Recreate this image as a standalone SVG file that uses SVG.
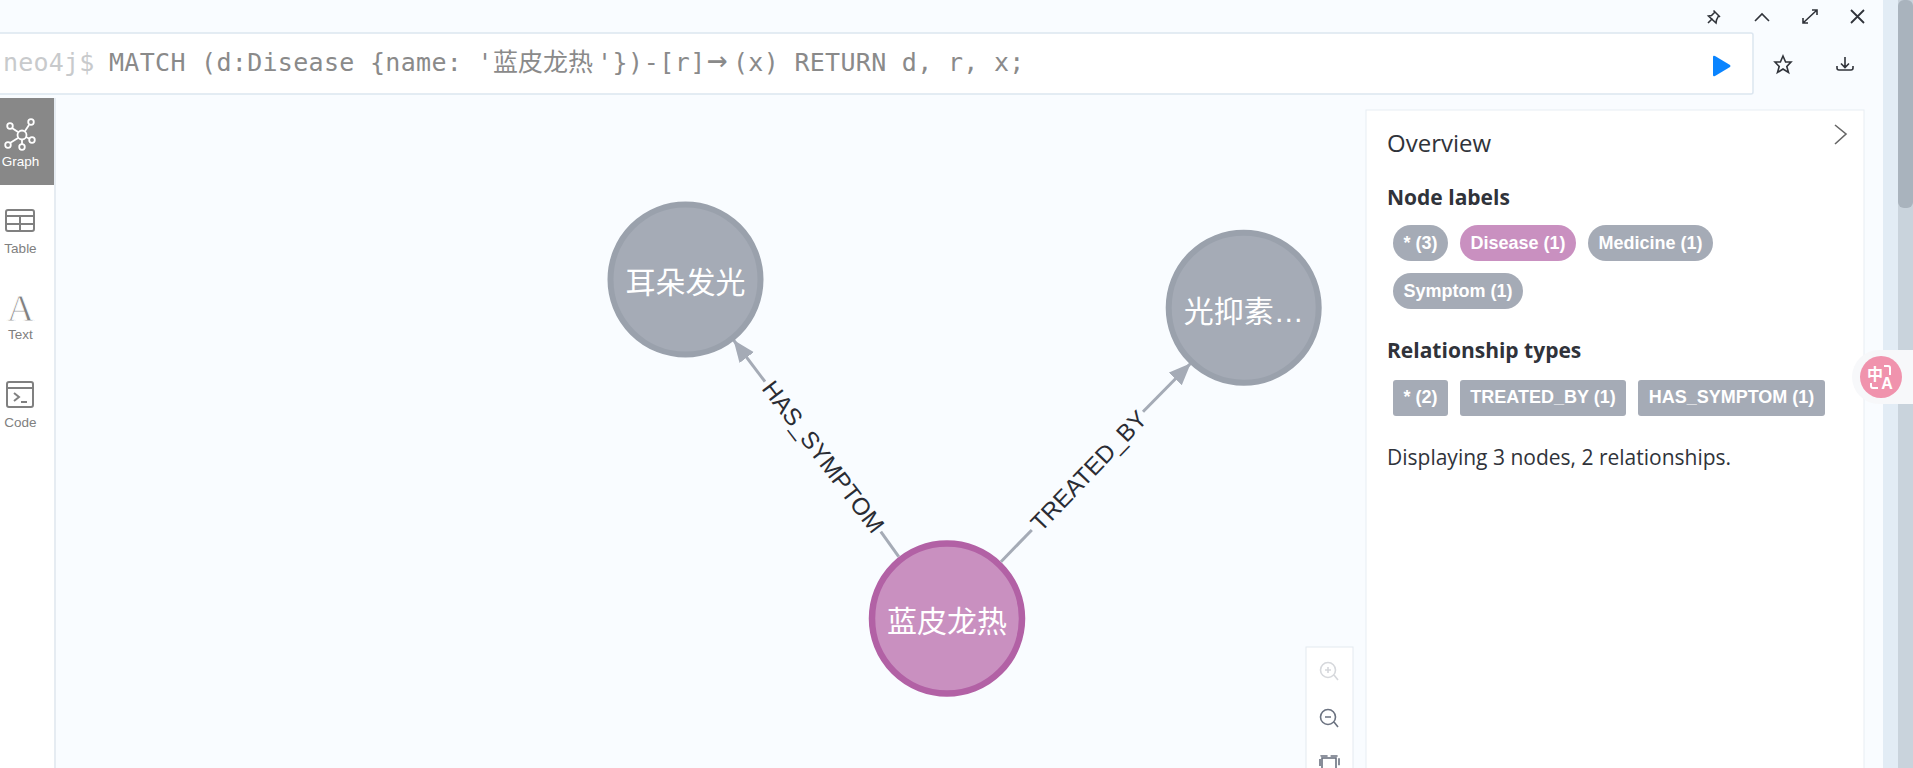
<svg xmlns="http://www.w3.org/2000/svg" width="1913" height="768" viewBox="0 0 1913 768">
<style>
.node text{font-size:30px;fill:#fff;text-anchor:middle;font-family:"Liberation Sans","Noto Sans CJK SC",sans-serif}
.gray circle{fill:#a5abb6;stroke:#9aa1ac;stroke-width:6}
.edge{stroke:#a5abb6;stroke-width:3;fill:none}
.rel{font:24px "Liberation Sans",sans-serif;fill:#2a2c34;text-anchor:middle}
.side{font:13.5px "Liberation Sans",sans-serif;fill:#808080;text-anchor:middle}
.ic{fill:none;stroke:#808080;stroke-width:2}
.pill{fill:#a5abb6}
.pt{font:bold 18px "Liberation Sans",sans-serif;fill:#fff;text-anchor:middle}
.h{font:bold 21px "Open Sans",sans-serif;fill:#30333a}
.tb{fill:none;stroke:#30333a;stroke-width:1.6}
</style>
<defs><marker id="a" markerUnits="userSpaceOnUse" markerWidth="24" markerHeight="20" refX="22" refY="9" orient="auto"><path d="M0 0L22 9L0 18Z" fill="#a5abb6"/></marker></defs>
<rect width="1913" height="768" fill="#f9fcff"/>
<rect x="-2" y="33" width="1755" height="61" rx="2" fill="#fff" stroke="#dce6f0" stroke-width="1.5"/>
<text x="3" y="71" font-family="'DejaVu Sans Mono','Noto Sans CJK SC',monospace" font-size="25" letter-spacing=".2" fill="#c8cacc">neo4j$</text>
<text x="109" y="71" font-family="'DejaVu Sans Mono','Noto Sans CJK SC',monospace" font-size="25" letter-spacing=".3" fill="#8a8a8a">MATCH (d:Disease {name: '<tspan x="493" letter-spacing="0">蓝皮龙热</tspan><tspan x="597" letter-spacing=".5">'})-[r]</tspan><tspan x="707" font-size="34">→</tspan><tspan x="733">(x) RETURN d, r, x;</tspan></text>
<rect x="0" y="98" width="54" height="670" fill="#fff"/>
<rect x="54" y="98" width="2" height="670" fill="#e6ecf2"/>
<rect x="0" y="98" width="54" height="87" fill="#888"/>
<g fill="none" stroke="#fff" stroke-width="1.8">
<circle cx="22" cy="135" r="4.5"/><circle cx="10" cy="126" r="2.8"/><circle cx="31" cy="122" r="2.8"/><circle cx="32" cy="140" r="2.8"/><circle cx="8" cy="145" r="2.8"/><circle cx="22" cy="147" r="2.8"/>
<path d="M12 128L18 132M29 125L25 131M26 137L30 139M18 138L10 143M22 140V144"/>
</g>
<text class="side" x="20.5" y="166" style="fill:#fff">Graph</text>
<g class="ic"><rect x="6" y="210" width="28" height="21" rx="2"/><path d="M6 216H34M6 224H34M20 216V231"/></g>
<text class="side" x="20.5" y="253">Table</text>
<text x="20.5" y="321" text-anchor="middle" font-family="'Liberation Serif',serif" font-size="38" fill="#808080" stroke="#fff" stroke-width=".8">A</text>
<text class="side" x="20.5" y="339">Text</text>
<g class="ic"><rect x="7" y="382" width="26" height="25" rx="2"/><path d="M7 388H33M14 393L19 397L14 401M21 402H27"/></g>
<text class="side" x="20.5" y="427">Code</text>
<g id="connectors">
<path class="edge" d="M898.7 556.7L880.8 531.7"/>
<path class="edge" d="M765 381.7L733.5 340" marker-end="url(#a)"/>
<path class="edge" d="M1001 561.7L1031.8 530"/>
<path class="edge" d="M1143 411.7L1190.8 363.3" marker-end="url(#a)"/>
<text class="rel" transform="translate(823 457) rotate(52.7)" y="8">HAS_SYMPTOM</text>
<text class="rel" transform="translate(1089 471) rotate(-46.3)" y="8">TREATED_BY</text>
</g>
<g id="node-ear" class="node gray"><circle cx="685.5" cy="279.5" r="75"/><text x="685.5" y="293">耳朵发光</text></g>
<g id="node-medicine" class="node gray"><circle cx="1243.7" cy="307.7" r="75"/><text x="1243.7" y="322">光抑素…</text></g>
<g id="node-disease" class="node"><circle cx="947" cy="618.5" r="75" fill="#c990c0" stroke="#b261a5" stroke-width="6.5"/><text x="947" y="632">蓝皮龙热</text></g>
<rect x="1366" y="110" width="498" height="670" fill="#fff" stroke="#e8edf3"/>
<rect x="1883" y="0" width="30" height="768" fill="#e2ecf5"/>
<rect x="1898" y="0" width="15" height="768" fill="#c9d3dc"/>
<rect x="1898" y="0" width="15" height="208" rx="6" fill="#a9b3bd"/>
<g class="tb"><path d="M1708 23L1712.5 18.5M1713.5 10.5L1720 17M1715 12L1711.5 15.5L1708.5 16L1716 23L1716.5 20L1718.5 16"/><path d="M1755 21L1762 14L1769 21"/><path d="M1803 23L1817 10M1812 10H1817V15M1803 18V23H1808"/><path d="M1851 10L1864 23M1864 10L1851 23" stroke-width="1.8"/></g>
<path d="M1713 57Q1713 55 1715 56L1730 65Q1731 66 1730 67L1715 76Q1713 77 1713 75Z" fill="#0a84ff"/>
<path class="tb" d="M1783 56L1785.6 62H1791L1786.8 66.5L1788.5 72.5L1783 69L1777.5 72.5L1779.2 66.5L1775 62H1780.4Z"/>
<path class="tb" d="M1845 57V67M1841 63.5L1845 67.5L1849 63.5M1837 66V68Q1837 70 1839 70H1851Q1853 70 1853 68V66"/>
<text x="1387" y="152" font-family="'Open Sans',sans-serif" font-size="24" fill="#30333a">Overview</text>
<path d="M1835 125L1846 134L1835 144" fill="none" stroke="#666" stroke-width="1.6"/>
<text class="h" x="1387" y="205">Node labels</text>
<rect class="pill" x="1393" y="225" width="55" height="36" rx="18"/><text class="pt" x="1420.5" y="249">* (3)</text>
<rect x="1460" y="225" width="116" height="36" rx="18" fill="#c990c0"/><text class="pt" x="1518" y="249">Disease (1)</text>
<rect class="pill" x="1588" y="225" width="125" height="36" rx="18"/><text class="pt" x="1650.5" y="249">Medicine (1)</text>
<rect class="pill" x="1393" y="273" width="130" height="36" rx="18"/><text class="pt" x="1458" y="297">Symptom (1)</text>
<text class="h" x="1387" y="358">Relationship types</text>
<rect class="pill" x="1393" y="380" width="55" height="36" rx="3"/><text class="pt" x="1420.5" y="403">* (2)</text>
<rect class="pill" x="1460" y="380" width="166" height="36" rx="3"/><text class="pt" x="1543" y="403">TREATED_BY (1)</text>
<rect class="pill" x="1638" y="380" width="187" height="36" rx="3"/><text class="pt" x="1731.5" y="403">HAS_SYMPTOM (1)</text>
<text x="1387" y="465" font-family="'Open Sans',sans-serif" font-size="21" fill="#30333a">Displaying 3 nodes, 2 relationships.</text>
<path d="M1913 350H1879A27 27 0 0 0 1879 404H1913Z" fill="#f7f8fa"/>
<circle cx="1881" cy="377" r="21" fill="#f093ad"/>
<text x="1875" y="380" font-family="'Noto Sans CJK SC',sans-serif" font-size="16" font-weight="700" fill="#fff" text-anchor="middle">中</text>
<text x="1887" y="389" font-family="'Liberation Sans',sans-serif" font-size="16" font-weight="700" fill="#fff" text-anchor="middle">A</text>
<path d="M1884 366H1888Q1890 366 1890 368V375M1871 383V386Q1871 388 1873 388H1878" fill="none" stroke="#fff" stroke-width="2"/>
<rect x="1306" y="647" width="47" height="130" fill="#fff" stroke="#e4e9f0"/>
<g fill="none" stroke="#d6d8dc" stroke-width="1.6"><circle cx="1328" cy="670" r="7.5"/><path d="M1334 675L1338 680M1325 670H1331M1328 667V673"/></g>
<g fill="none" stroke="#6b7280" stroke-width="1.6"><circle cx="1328" cy="717" r="7.5"/><path d="M1334 722L1338 727M1325 717H1331"/></g>
<g fill="none" stroke="#6b7280" stroke-width="1.6"><rect x="1322" y="758" width="14" height="14"/><path d="M1320 766V757Q1320 756 1321 756H1338Q1339 756 1339 757V766" stroke-dasharray="7 3"/></g>
</svg>
